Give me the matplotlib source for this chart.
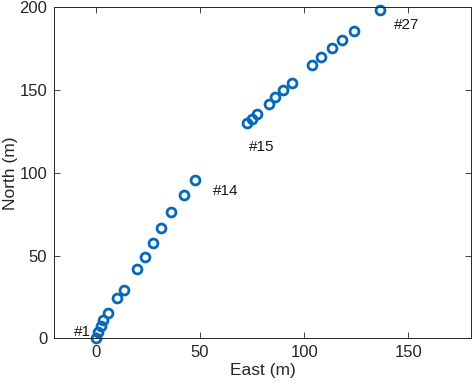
import matplotlib
matplotlib.use("Agg")
import matplotlib.pyplot as plt

east = [0.0, 1.2, 2.3, 3.6, 5.6, 10.2, 13.3, 19.8, 23.4, 27.3, 31.4, 36.2, 42.1, 47.4,
        72.6, 75.1, 77.3, 83.0, 86.1, 89.8, 94.0, 104.0, 108.2, 113.4, 118.3, 124.0, 136.3]
north = [0.0, 3.6, 7.3, 11.0, 15.0, 24.5, 29.2, 41.7, 49.2, 57.4, 66.5, 76.2, 86.4, 95.4,
         129.9, 132.8, 135.4, 141.9, 145.6, 150.0, 154.6, 165.2, 170.2, 175.3, 180.3, 186.0, 198.4]

labels = ["#1", "#14", "#15", "#27"]
label_x = [-6.7, 62.4, 79.5, 149.0]
label_y = [4.0, 89.2, 115.8, 189.3]

plt.rcParams['font.family'] = ['Liberation Sans', 'DejaVu Sans']

fig = plt.figure(figsize=(4.74, 3.9), dpi=100)
ax = fig.add_axes([0.1146, 0.1326, 0.993 - 0.1146, 0.981 - 0.1326])

ax.plot(east, north, linestyle='none', marker='o', markersize=6.4,
        markerfacecolor='none', markeredgecolor='#0868B8', markeredgewidth=2.0,
        clip_on=False)

for t, x, y in zip(labels, label_x, label_y):
    ax.text(x, y, t, fontsize=11, ha='center', va='center', color='#1a1a1a')

ax.set_xlim(-20, 180)
ax.set_ylim(0, 200)
ax.set_xticks([0, 50, 100, 150])
ax.set_yticks([0, 50, 100, 150, 200])
ax.tick_params(direction='in', top=True, right=True, length=4, width=0.6,
               labelsize=12, colors='#262626', pad=5)
for s in ax.spines.values():
    s.set_color('#262626')
    s.set_linewidth(0.7)

ax.set_xlabel('East (m)', fontsize=12.5, color='#262626', labelpad=2)
ax.set_ylabel('North (m)', fontsize=12.5, color='#262626', labelpad=1)

fig.savefig('out.png', dpi=100)
